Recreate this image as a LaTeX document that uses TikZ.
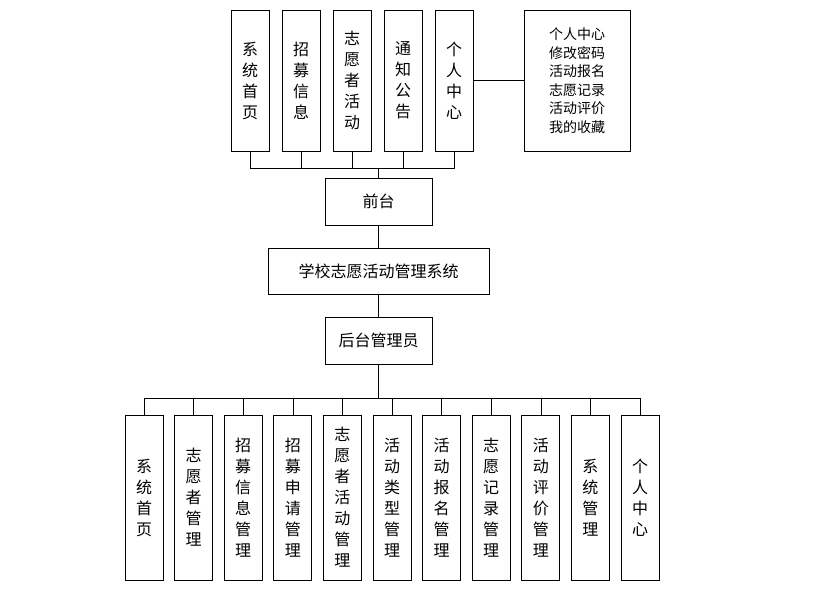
\documentclass[tikz,border=0pt]{standalone}
\usepackage{fontspec}
\setmainfont{Noto Sans CJK SC}
\begin{document}
\begin{tikzpicture}[x=1pt,y=-1pt,
  box/.style={draw, thick, inner sep=0pt, font=\fontsize{16}{21}\selectfont, align=center},
  tbox/.style={box, minimum width=38pt, minimum height=141pt},
  bbox/.style={box, minimum width=38pt, minimum height=165pt},
  hbox/.style={box, minimum width=107pt, minimum height=47pt},
  link/.style={draw, thin}]
\useasboundingbox (0,0) rectangle (830,590);
% top row of modules
\node[tbox] (t1) at (250,80.5) {系\\统\\首\\页};
\node[tbox] (t2) at (301,80.5) {招\\募\\信\\息};
\node[tbox] (t3) at (352,80.5) {志\\愿\\者\\活\\动};
\node[tbox] (t4) at (403,80.5) {通\\知\\公\\告};
\node[tbox] (t5) at (454,80.5) {个\\人\\中\\心};
\node[box, minimum width=106pt, minimum height=141pt, align=left,
  font=\fontsize{14}{18.5}\selectfont] (sub) at (577,80.5)
  {个人中心\\修改密码\\活动报名\\志愿记录\\活动评价\\我的收藏};
% middle column
\node[hbox] (front) at (378.5,201.5) {前台};
\node[hbox, minimum width=221pt, minimum height=46pt] (sys) at (378.5,271) {学校志愿活动管理系统};
\node[hbox] (admin) at (378.5,340.5) {后台管理员};
% bottom row of modules
\foreach \name [count=\i] in {系\\统\\首\\页, 志\\愿\\者\\管\\理, 招\\募\\信\\息\\管\\理,
  招\\募\\申\\请\\管\\理, 志\\愿\\者\\活\\动\\管\\理, 活\\动\\类\\型\\管\\理,
  活\\动\\报\\名\\管\\理, 志\\愿\\记\\录\\管\\理, 活\\动\\评\\价\\管\\理,
  系\\统\\管\\理, 个\\人\\中\\心}
  \node[bbox] (b\i) at ({144+49.6*(\i-1)},497.5) {\name};
% connectors
\coordinate (tbus) at (378.5,168);
\foreach \i in {1,...,5} \draw[link] (t\i.south) |- (tbus);
\draw[link] (t5.east) -- (sub.west);
\draw[link] (tbus) -- (front.north);
\draw[link] (front.south) -- (sys.north);
\draw[link] (sys.south) -- (admin.north);
\coordinate (bbus) at (378.5,398);
\draw[very thick] (admin.south) -- (bbus);
\foreach \i in {1,...,11} \draw[link] (b\i.north) |- (bbus);
\end{tikzpicture}
\end{document}
